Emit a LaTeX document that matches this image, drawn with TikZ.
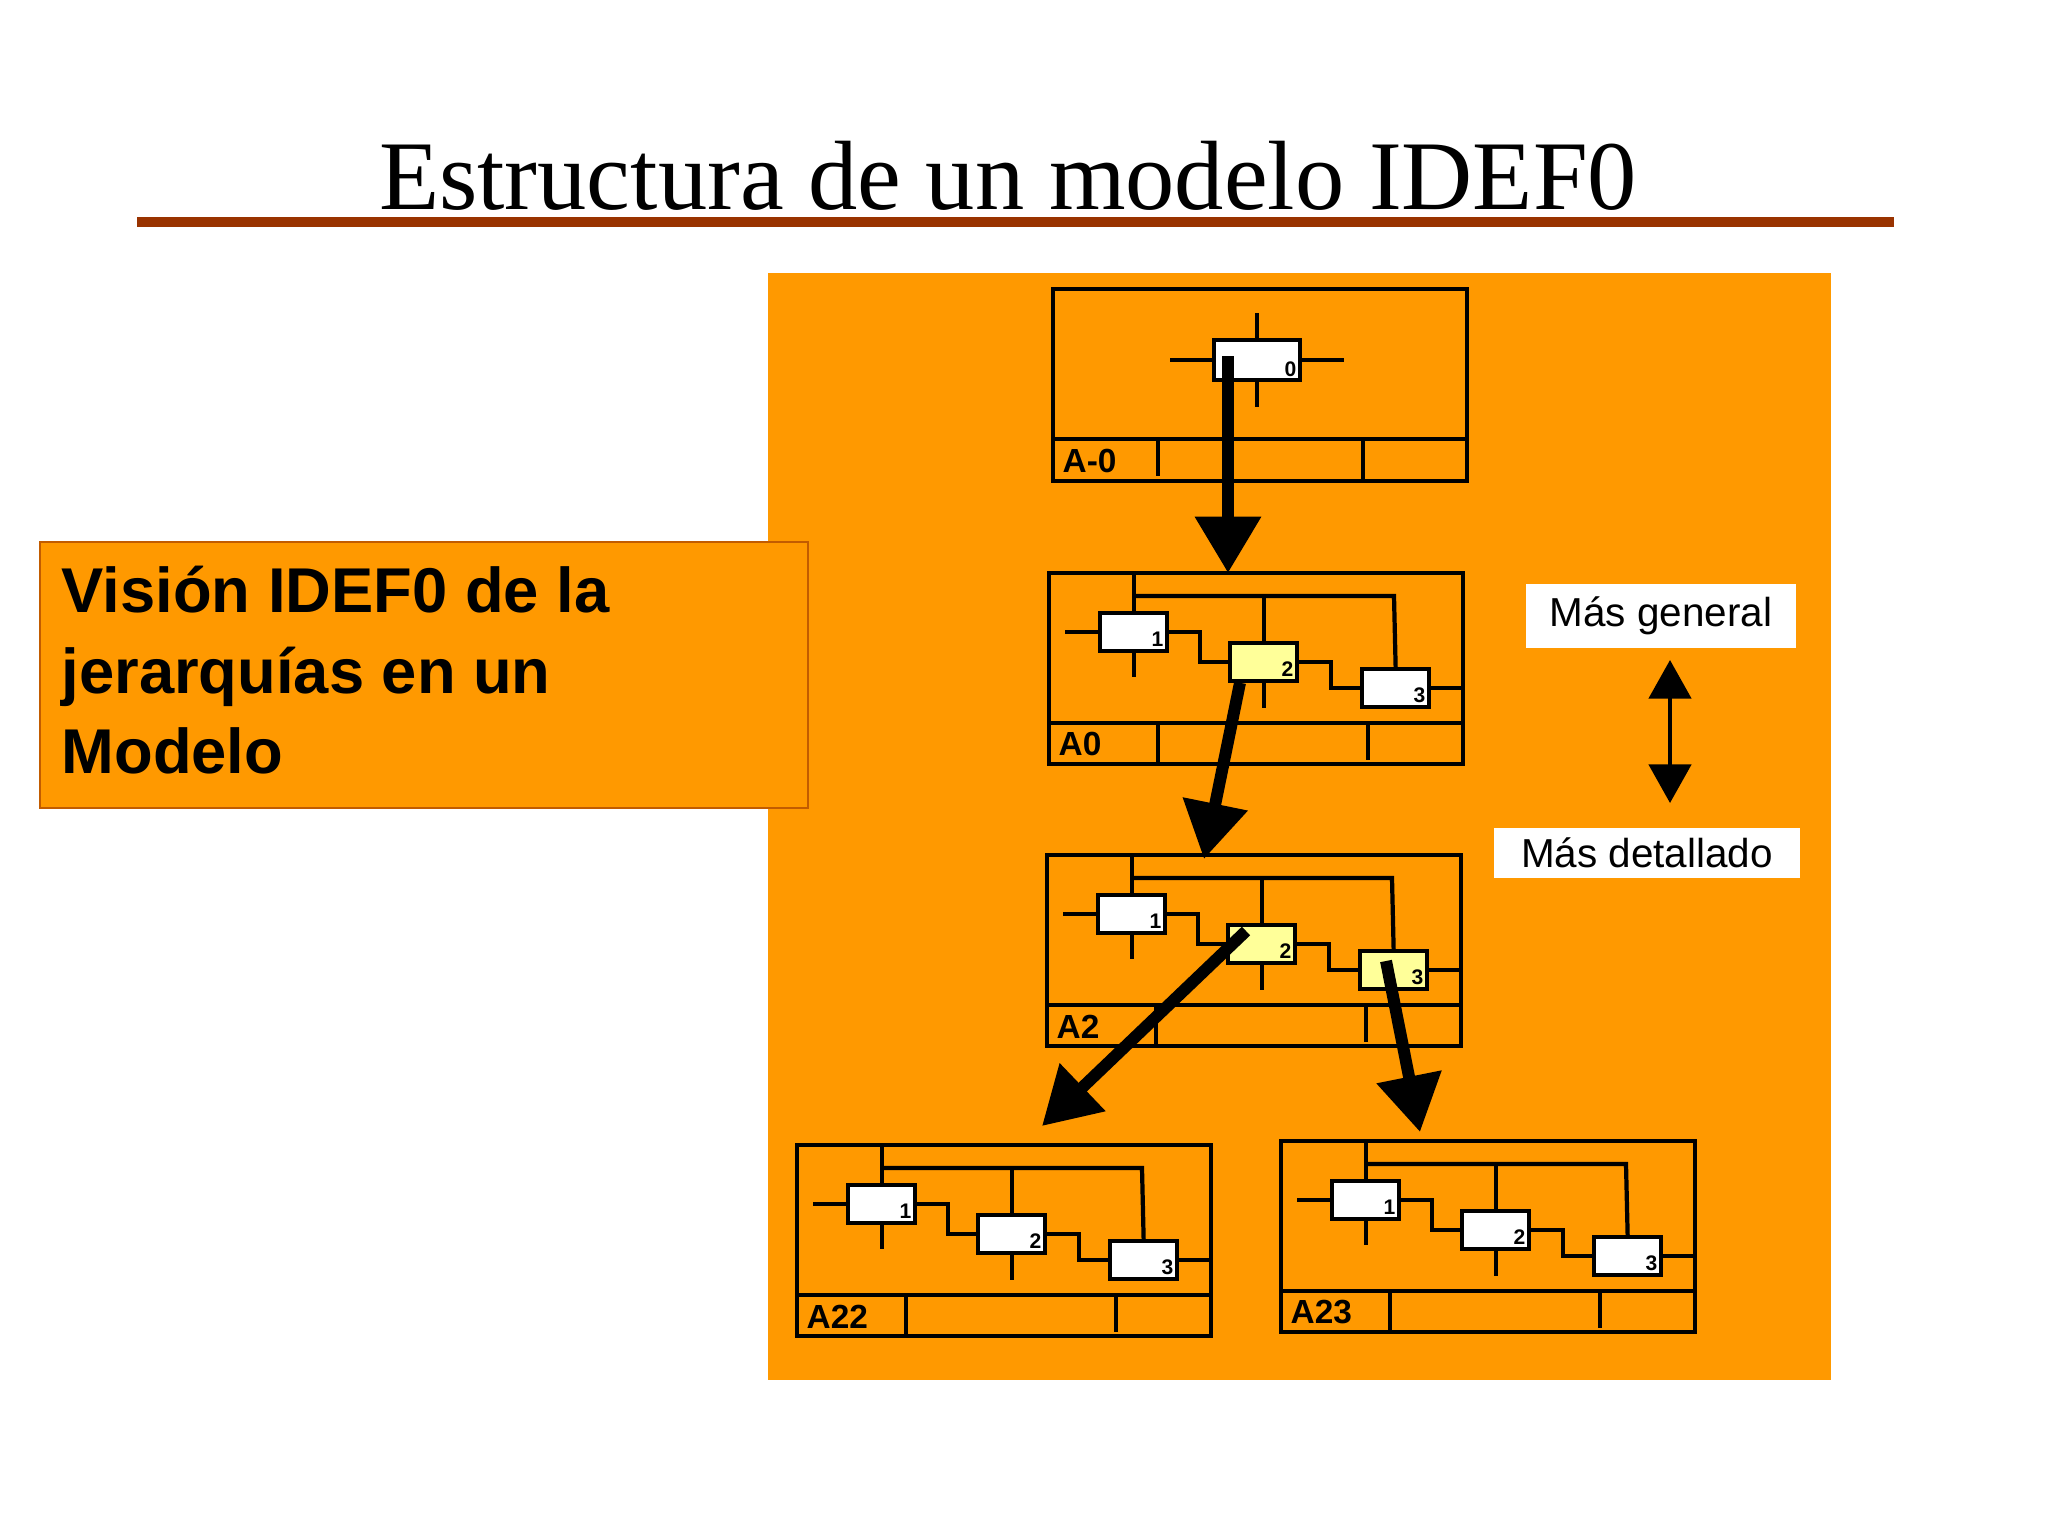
\documentclass[tikz,border=0pt]{standalone}
\usepackage{fontspec}
\setmainfont{Liberation Serif}
\setsansfont{Liberation Sans}
\usetikzlibrary{arrows.meta,calc}
\definecolor{org}{HTML}{FF9900}
\definecolor{rul}{HTML}{993300}
\definecolor{yel}{HTML}{FFFF99}
\tikzset{
  fr/.style={line width=1.2pt},
  ibox/.style={draw,line width=1.2pt,minimum width=0.67cm,minimum height=0.375cm,inner sep=0pt,anchor=north west},
  num/.style={font=\sffamily\bfseries\fontsize{6}{6}\selectfont,inner sep=1.5pt},
  flab/.style={font=\sffamily\bfseries\fontsize{9.5}{10}\selectfont,anchor=south west,inner sep=0pt},
  big/.style={line width=3.4pt,-{Triangle[width=18pt,length=16pt]}},
  wlab/.style={fill=white,font=\sffamily\fontsize{11.5}{12}\selectfont,inner sep=0pt}
}
\newcommand{\idefsub}[6]{%
\begin{scope}[shift={(#2,#3)}]
  \draw[fr] (0,0) rectangle (414,191);
  \draw[fr] (0,150) -- (414,150) (109,150) -- (109,191) (319,150) -- (319,187);
  \node[flab] (#1lab) at (9,184) {#4};
  \node[ibox,fill=white,label={[num,anchor=south east]south east:1}] (#1b1) at (49,38) {};
  \node[ibox,fill=#5,label={[num,anchor=south east]south east:2}] (#1b2) at (179,68) {};
  \node[ibox,fill=#6,label={[num,anchor=south east]south east:3}] (#1b3) at (311,94) {};
  \draw[fr] (#1b1.west) -- ++(-33,0);
  \draw[fr] (#1b1.north) -- ++(0,-38);
  \draw[fr] ($(#1b1.north)+(0,-15)$) -- (345,23) -- (#1b3.north);
  \draw[fr] (#1b2.north) -- (#1b2.north |- 0,23);
  \draw[fr] (#1b1.south) -- ++(0,24);
  \draw[fr] (#1b2.south) -- ++(0,25);
  \draw[fr] (#1b1.east) -- ++(31,0) |- (#1b2.west);
  \draw[fr] (#1b2.east) -- ++(32,0) |- (#1b3.west);
  \draw[fr] (#1b3.east) -- ++(31,0);
\end{scope}}
\begin{document}
\begin{tikzpicture}[x=0.01cm,y=-0.01cm]
\useasboundingbox (0,0) rectangle (2048,1536);
\node[font=\fontsize{28}{30}\selectfont,inner sep=0pt] (title) at (1008,176) {Estructura de un modelo IDEF0};
\draw[rul,line width=2.9pt] (137,222) -- (1894,222);
\fill[org] (768,273) rectangle (1831,1380);
\draw[fill=org,draw=rul!60!org,line width=0.4pt] (40,542) rectangle (808,808);
\node[anchor=north west,align=left,font=\sffamily\bfseries\fontsize{18}{23}\selectfont,inner sep=0pt] (vis) at (61,565) {Visión IDEF0 de la\\jerarquías en un\\Modelo};
% A-0
\begin{scope}[shift={(1053,289)}]
  \draw[fr] (0,0) rectangle (414,192);
  \draw[fr] (0,150) -- (414,150) (105,150) -- (105,187) (310,150) -- (310,192);
  \node[flab] (amlab) at (9,185) {A-0};
  \node[ibox,fill=white,minimum width=0.86cm,minimum height=0.40cm,label={[num,anchor=south east]south east:0}] (b0) at (159,49) {};
  \draw[fr] (b0.west) -- ++(-42,0);
  \draw[fr] (b0.east) -- ++(42,0);
  \draw[fr] (b0.north) -- ++(0,-25);
  \draw[fr] (b0.south) -- ++(0,25);
\end{scope}
\idefsub{a0}{1049}{573}{A0}{yel}{white}
\idefsub{a2}{1047}{855}{A2}{yel}{yel}
\idefsub{a22}{797}{1145}{A22}{white}{white}
\idefsub{a23}{1281}{1141}{A23}{white}{white}
\coordinate (s1) at ($(b0.south west)+(16,-26)$);
\coordinate (t1) at (1228,573);
\draw[big] (s1) -- (t1);
\coordinate (s2) at ($(a0b2.south west)+(12,0)$);
\coordinate (t2) at (1204,859);
\draw[big] (s2) -- (t2);
\coordinate (s3) at ($(a2b2.north west)+(20,8)$);
\coordinate (t3) at (1042,1126);
\draw[big] (s3) -- (t3);
\coordinate (s4) at ($(a2b3.north west)+(28,12)$);
\coordinate (t4) at (1420,1132);
\draw[big] (s4) -- (t4);
\node[wlab,minimum width=2.69cm,minimum height=0.63cm] (gen) at (1661,616) {Más general};
\node[wlab,minimum width=3.05cm,minimum height=0.50cm] (det) at (1647,853) {Más detallado};
\coordinate (d1) at (1670,660);
\coordinate (d2) at (1670,803);
\draw[line width=1.2pt,{Triangle[width=12pt,length=11pt]}-{Triangle[width=12pt,length=11pt]}] (d1) -- (d2);
\end{tikzpicture}
\end{document}
